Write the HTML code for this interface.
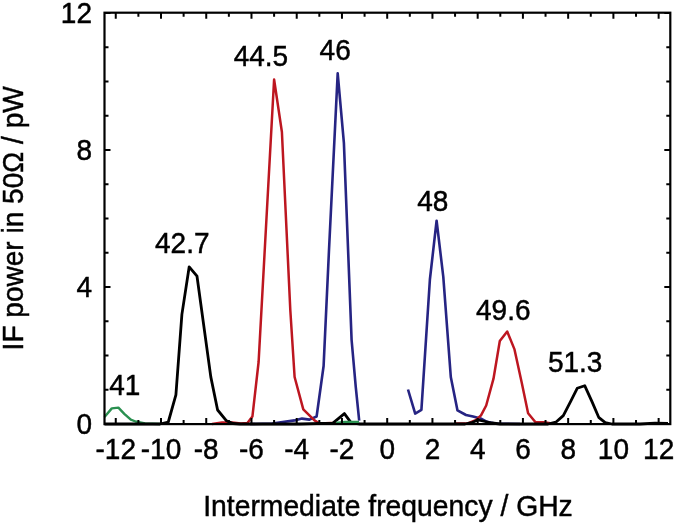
<!DOCTYPE html>
<html><head><meta charset="utf-8"><style>
html,body{margin:0;padding:0;background:#fff;}
body{width:675px;height:524px;overflow:hidden;}
svg{display:block;filter:blur(0.3px);}
</style></head><body>
<svg width="675" height="524" viewBox="0 0 675 524">
<rect width="675" height="524" fill="#fff"/>
<polyline points="104.5,417.0 111.8,408.4 118.4,407.6 124.3,413.8 130.8,419.7 135.5,421.5 145.0,423.5 160.0,424.0" fill="none" stroke="#2a9050" stroke-width="2.4" stroke-linejoin="round" stroke-linecap="butt"/>
<polyline points="118.0,424.0 148.0,424.0" fill="none" stroke="#232080" stroke-width="2.0" stroke-linejoin="round" stroke-linecap="butt"/>
<polyline points="250.0,424.0 272.3,423.5 294.6,420.4 302.0,418.6 309.5,419.6 316.6,416.5 323.6,366.0 329.0,250.0 337.7,73.4 343.9,142.9 351.6,340.0 355.8,387.3 359.2,420.6" fill="none" stroke="#262483" stroke-width="2.6" stroke-linejoin="round" stroke-linecap="butt"/>
<polyline points="408.0,389.5 415.2,413.6 421.4,409.9 429.9,279.5 436.6,220.7 443.3,276.8 450.8,377.0 457.5,410.4 466.0,415.0 473.0,416.6 481.5,418.8 487.0,421.8 495.0,423.5 520.0,424.0" fill="none" stroke="#262483" stroke-width="2.6" stroke-linejoin="round" stroke-linecap="butt"/>
<polyline points="212.0,424.0 222.0,422.6 232.0,422.5 241.0,423.6 247.4,423.0 252.4,416.6 258.6,362.0 274.1,79.5 281.9,132.0 290.3,310.0 294.6,377.0 303.3,409.3 314.5,420.4 319.5,423.5 331.0,423.0 345.0,423.5" fill="none" stroke="#bd1620" stroke-width="2.5" stroke-linejoin="round" stroke-linecap="butt"/>
<polyline points="455.0,423.5 468.4,423.2 475.7,420.2 481.0,415.4 486.2,405.5 493.5,378.7 499.8,341.0 507.2,331.5 514.5,349.4 521.8,382.9 528.1,413.3 535.5,422.3 543.9,422.3 552.0,423.5" fill="none" stroke="#bd1620" stroke-width="2.5" stroke-linejoin="round" stroke-linecap="butt"/>
<polyline points="104.5,424.0 160.0,424.0 168.3,422.0 175.9,394.8 181.9,314.4 189.2,266.8 197.0,276.2 210.8,376.9 217.6,410.0 226.5,420.8 233.0,423.5 240.0,424.0 300.0,424.0 332.9,423.1 344.4,413.6 351.0,422.6 360.0,424.0 465.0,424.0 472.6,422.3 478.0,420.0 485.0,421.5 492.0,423.0 500.0,424.0 548.0,424.0 555.8,422.2 563.3,415.6 570.8,401.2 577.2,388.3 584.7,385.7 592.2,402.2 598.7,417.3 605.2,422.6 612.0,424.0 640.0,424.0 655.0,423.2 668.0,423.3" fill="none" stroke="#000" stroke-width="2.8" stroke-linejoin="round" stroke-linecap="butt"/>
<polyline points="336.0,423.0 345.0,422.0 359.0,422.0" fill="none" stroke="#2a9050" stroke-width="2.4" stroke-linejoin="round" stroke-linecap="butt"/>
<path d="M115.76,12.7v6M115.76,424.1v-6M138.38,12.7v4M138.38,424.1v-4M161.00,12.7v6M161.00,424.1v-6M183.62,12.7v4M183.62,424.1v-4M206.24,12.7v6M206.24,424.1v-6M228.86,12.7v4M228.86,424.1v-4M251.48,12.7v6M251.48,424.1v-6M274.10,12.7v4M274.10,424.1v-4M296.72,12.7v6M296.72,424.1v-6M319.34,12.7v4M319.34,424.1v-4M341.96,12.7v6M341.96,424.1v-6M364.58,12.7v4M364.58,424.1v-4M387.20,12.7v6M387.20,424.1v-6M409.82,12.7v4M409.82,424.1v-4M432.44,12.7v6M432.44,424.1v-6M455.06,12.7v4M455.06,424.1v-4M477.68,12.7v6M477.68,424.1v-6M500.30,12.7v4M500.30,424.1v-4M522.92,12.7v6M522.92,424.1v-6M545.54,12.7v4M545.54,424.1v-4M568.16,12.7v6M568.16,424.1v-6M590.78,12.7v4M590.78,424.1v-4M613.40,12.7v6M613.40,424.1v-6M636.02,12.7v4M636.02,424.1v-4M658.64,12.7v6M658.64,424.1v-6M104.5,424.10h6M670.3,424.10h-6M104.5,389.85h4M670.3,389.85h-4M104.5,355.60h4M670.3,355.60h-4M104.5,321.35h4M670.3,321.35h-4M104.5,287.10h6M670.3,287.10h-6M104.5,252.85h4M670.3,252.85h-4M104.5,218.60h4M670.3,218.60h-4M104.5,184.35h4M670.3,184.35h-4M104.5,150.10h6M670.3,150.10h-6M104.5,115.85h4M670.3,115.85h-4M104.5,81.60h4M670.3,81.60h-4M104.5,47.35h4M670.3,47.35h-4M104.5,13.10h6M670.3,13.10h-6" stroke="#000" stroke-width="2" fill="none"/>
<rect x="104.5" y="12.7" width="565.8" height="411.4" fill="none" stroke="#000" stroke-width="2.2"/>
<g font-family='"Liberation Sans", Arial, Helvetica, sans-serif' font-size="28" fill="#000" stroke="#000" stroke-width="0.45"><text transform="translate(115.76,458.60) scale(1,1.055)" text-anchor="middle">-12</text><text transform="translate(161.00,458.60) scale(1,1.055)" text-anchor="middle">-10</text><text transform="translate(206.24,458.60) scale(1,1.055)" text-anchor="middle">-8</text><text transform="translate(251.48,458.60) scale(1,1.055)" text-anchor="middle">-6</text><text transform="translate(296.72,458.60) scale(1,1.055)" text-anchor="middle">-4</text><text transform="translate(341.96,458.60) scale(1,1.055)" text-anchor="middle">-2</text><text transform="translate(387.20,458.60) scale(1,1.055)" text-anchor="middle">0</text><text transform="translate(432.44,458.60) scale(1,1.055)" text-anchor="middle">2</text><text transform="translate(477.68,458.60) scale(1,1.055)" text-anchor="middle">4</text><text transform="translate(522.92,458.60) scale(1,1.055)" text-anchor="middle">6</text><text transform="translate(568.16,458.60) scale(1,1.055)" text-anchor="middle">8</text><text transform="translate(613.40,458.60) scale(1,1.055)" text-anchor="middle">10</text><text transform="translate(658.64,458.60) scale(1,1.055)" text-anchor="middle">12</text><text transform="translate(92.00,434.00) scale(1,1.055)" text-anchor="end">0</text><text transform="translate(92.00,297.00) scale(1,1.055)" text-anchor="end">4</text><text transform="translate(92.00,160.00) scale(1,1.055)" text-anchor="end">8</text><text transform="translate(92.00,23.00) scale(1,1.055)" text-anchor="end">12</text><text transform="translate(109.30,395.30) scale(1,1.055)">41</text><text transform="translate(155.00,253.10) scale(1,1.055)">42.7</text><text transform="translate(233.70,66.30) scale(1,1.055)">44.5</text><text transform="translate(319.60,59.80) scale(1,1.055)">46</text><text transform="translate(417.20,210.90) scale(1,1.055)">48</text><text transform="translate(476.00,320.10) scale(1,1.055)">49.6</text><text transform="translate(547.90,372.20) scale(1,1.055)">51.3</text><text transform="translate(203.20,515.90) scale(1,1.03)" font-size="28.3">Intermediate frequency / GHz</text><text transform="translate(23.2,350.4) rotate(-90) scale(1,1.04)" font-size="28.05">IF power in 50Ω / pW</text></g>
</svg>
</body></html>
